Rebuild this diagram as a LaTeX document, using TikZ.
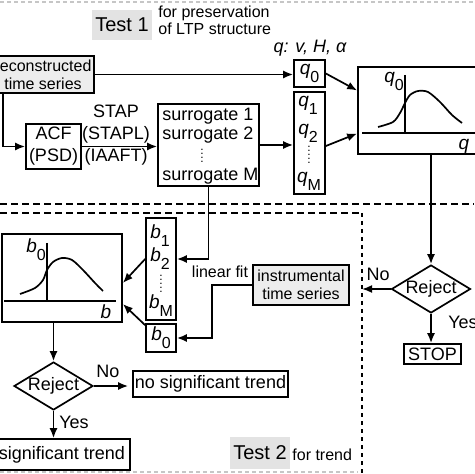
\documentclass[tikz,border=0pt]{standalone}
\usepackage{fontspec}
\setmainfont{Liberation Sans}
\usetikzlibrary{arrows.meta,shapes.geometric}
\newcommand{\vsub}[2]{{\fontsize{9.5}{10}\selectfont\itshape #1}\raisebox{-4pt}{\fontsize{8}{8}\selectfont #2}}
\newcommand{\vdt}{\vbox{\fontsize{6}{2}\selectfont\baselineskip=2pt\lineskiplimit=-100pt\lineskip=0pt\hbox{.}\hbox{.}\hbox{.}\hbox{.}\hbox{.}}}
\newcommand{\vdtf}{\vbox{\fontsize{6}{2}\selectfont\baselineskip=2pt\lineskiplimit=-100pt\lineskip=0pt\hbox{.}\hbox{.}\hbox{.}\hbox{.}}}
\begin{document}
\begin{tikzpicture}[x=0.5pt,y=-0.5pt,
  every node/.style={font=\fontsize{9}{11}\selectfont, inner sep=0pt},
  box/.style={draw, line width=0.85pt, fill=white},
  gbox/.style={draw, line width=0.85pt, fill=black!7, align=center, font=\fontsize{8}{9}\selectfont},
  arr/.style={line width=0.85pt, -{Latex[length=5pt,width=4pt]}},
  ln/.style={line width=0.85pt},
  dec/.style={draw, diamond, line width=0.85pt, aspect=1.65, minimum width=39.5pt, minimum height=24pt, fill=white},
  bdash/.style={line width=1pt, dash pattern=on 3.5pt off 2pt},
  vdash/.style={line width=1.2pt, dash pattern=on 2pt off 2pt},
  gdash/.style={line width=1pt, gray!45, dash pattern=on 2pt off 1.5pt},
  tlab/.style={fill=black!11, minimum width=30pt, minimum height=15pt, font=\fontsize{10}{12}\selectfont},
  small/.style={font=\fontsize{8}{8.3}\selectfont, align=left},
  itl/.style={font=\fontsize{9.5}{10}\selectfont\itshape},
]
\useasboundingbox (0,0) rectangle (474,474);

% region borders
\draw[gdash] (0,2) -- (474,2);
\draw[bdash] (0,204) -- (474,204);
\draw[bdash] (0,213) -- (360,213);
\draw[vdash] (362,213) -- (362,476);
\draw[gdash] (0,472) -- (358,472);

% Test 1 labels
\node[tlab] (t1) at (122,25) {Test 1};
\node[small, anchor=west] (t1s) at (158,20) {for preservation\\of LTP structure};
\node[font=\fontsize{9}{11}\selectfont\itshape] (ql) at (310,48) {q: v, H, α};

% top row
\node[gbox, minimum width=51pt, minimum height=18.5pt] (rec) at (43,74.5) {reconstructed\\time series};
\node[box, minimum width=15.5pt, minimum height=13.5pt] (q0) at (309.5,73.5) {\vsub{q}{0}};
\node[box, minimum width=27.5pt, minimum height=22.5pt, align=center] (acf) at (53.5,146.5) {ACF\\(PSD)};
\node[align=center] (stap) at (116,135.5) {STAP\\(STAPL)\\(IAAFT)};

\node[box, minimum width=50.5pt, minimum height=41pt] (sur) at (208.5,145) {};
\node[anchor=west] (s1) at (162,116) {surrogate 1};
\node[anchor=west] (s2) at (162,135) {surrogate 2};
\node (sd) at (202,156) {\vdtf};
\node[anchor=west] (sM) at (162,176) {surrogate M};

\node[box, minimum width=15.5pt, minimum height=51pt] (qcol) at (309.5,143) {};
\node (q1) at (308,105) {\vsub{q}{1}};
\node (q2) at (308,133) {\vsub{q}{2}};
\node (qd) at (309,155) {\vdt};
\node (qM) at (309,181) {\vsub{q}{M}};

% top graph
\node[box, minimum width=59pt, minimum height=43.5pt] (gq) at (417,110.5) {};
\draw[ln] (362,133) -- (476,133);
\draw[ln] (405,75) -- (405,133);
\draw[ln] plot[smooth] coordinates {(378,127) (393,122) (400,113) (405,103) (410,95) (418,91) (428,92) (440,102) (452,115) (462,123)};
\node (gq0) at (394,81) {\vsub{q}{0}};
\node[itl] (gql) at (464,146) {q};

% right decision
\node[dec] (r1) at (431,289) {Reject};
\node (no1) at (378,274) {No};
\node (yes1) at (463,322) {Yes};
\node[box, minimum width=28.5pt, minimum height=10pt] (stop) at (432.5,354) {STOP};
\coordinate (noend) at (362,289);

% Test 2 part
\node[box, minimum width=15pt, minimum height=51pt] (bcol) at (161,269) {};
\node (b1) at (160,236) {\vsub{b}{1}};
\node (b2) at (160,259) {\vsub{b}{2}};
\node (bd) at (161,284) {\vdt};
\node (bM) at (161,306) {\vsub{b}{M}};
\node[box, minimum width=15pt, minimum height=14pt] (b0) at (161,338) {\vsub{b}{0}};

\node[gbox, minimum width=48pt, minimum height=20pt] (ins) at (301,285) {instrumental\\time series};
\node[font=\fontsize{8}{9}\selectfont] (lf) at (220,272) {linear fit};

\node[box, minimum width=60pt, minimum height=44pt] (gb) at (62,278) {};
\draw[ln] (4,301) -- (116,301);
\draw[ln] (47,243) -- (47,301);
\draw[ln] plot[smooth] coordinates {(20,294) (35,288) (43,280) (47,270) (53,262) (62,258) (72,260) (83,270) (95,283) (103,291)};
\node (gb0) at (36,250) {\vsub{b}{0}};
\node[itl] (gbl) at (106,312) {b};

\node[dec] (r2) at (53.5,386) {Reject};
\node (no2) at (108,371) {No};
\node (yes2) at (74,422) {Yes};
\node[box, minimum width=77.5pt, minimum height=13pt] (nst) at (210.5,384) {no significant trend};
\node[box, minimum width=68pt, minimum height=15.5pt] (st) at (62,454.5) {significant trend};

\node[tlab, minimum height=16pt] (t2) at (260,453) {Test 2};
\node[small, anchor=west] (t2s) at (292,455) {for trend};

% connectors
\draw[arr] (rec.east) -- (rec.east -| q0.west);
\draw[arr] ([xshift=6pt]rec.south west) |- (acf.west);
\draw[arr] (acf.east) -- (acf.east -| sur.west);
\draw[arr] (sur.east) -- (sur.east -| qcol.west);
\draw[arr] (q0.east) -- ([yshift=10pt]gq.west);
\draw[arr] ([yshift=-1.5pt]qcol.east) -- ([yshift=-11.5pt]gq.west);
\draw[arr] (gq.south -| r1.north) -- (r1.north);
\draw[arr] (r1.west) -- (noend);
\draw[arr] (r1.south) -- (r1.south |- stop.north);
\draw[arr] (sur.south) |- (bcol.east |- b2);
\draw[arr] (ins.west) -- ++(-40,0) |- (b0.east);
\draw[arr] (bcol.west |- b2) -- ([yshift=-2.5pt]gb.east);
\draw[arr] ([yshift=-1pt]b0.north west) -- ([yshift=-13pt]gb.east);
\draw[arr] (gb.south -| r2.north) -- (r2.north);
\draw[arr, shorten >=2pt] (r2.east) -- (r2.east -| nst.west);
\draw[arr] (r2.south) -- (r2.south |- st.north);
\end{tikzpicture}
\end{document}
